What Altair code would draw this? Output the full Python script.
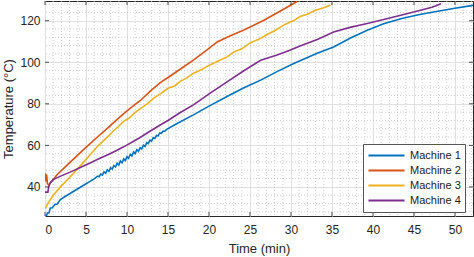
import altair as alt
import pandas as pd

# Heating curves of four machines: time (min) vs temperature (°C)
t1 = [0, 0.15, 0.3, 0.5, 0.65, 0.9, 1.2, 1.5, 1.87, 2.5, 3.5, 4.5, 5.5, 6.0,
      6.4, 6.6, 6.8, 7.0, 7.2, 7.4, 7.6, 7.8, 8.0, 8.2, 8.4, 8.6, 8.8, 9.0, 9.2, 9.4,
      9.6, 9.8, 10.0, 10.2, 10.4, 10.6, 10.8, 11.0, 11.2, 11.4, 11.6, 11.8, 12.0, 12.2,
      12.4, 12.6, 12.8, 13.0, 13.2, 13.4, 13.6, 13.8, 14.0, 14.2, 14.4, 14.6, 14.8,
      16.0, 18.1, 20.0, 22.2, 24.2, 26.3, 28.3, 30.4, 33.2, 35.2, 37.2, 39.3,
      41.3, 43.4, 45.4, 47.4, 49.8, 52.2]
v1 = [25.8, 25.8, 27.5, 27.6, 29.9, 30.0, 31.5, 31.8, 33.9, 35.5, 37.9, 40.3, 42.7, 43.9,
      45.2, 44.9, 46.2, 45.7, 47.2, 46.6, 48.2, 47.5, 49.2, 48.6, 50.3, 49.6, 51.4, 50.5,
      52.5, 51.6, 53.5, 52.7, 54.6, 53.8, 55.7, 54.9, 56.8, 56.0, 57.9, 57.1, 58.9, 58.3,
      60.1, 59.5, 61.3, 60.8, 62.5, 62.1, 63.7, 63.3, 64.8, 64.6, 66.0, 65.8, 66.9, 66.8,
      67.6,
      70.3, 74.7, 78.9, 83.5, 87.6, 91.4, 95.5, 99.5, 104.3, 107.4, 111.6, 115.4,
      118.5, 121.0, 122.8, 124.2, 125.9, 127.4]

t2 = [0, 0.05, 0.15, 0.2, 0.3, 0.45, 0.65, 1.5, 2.5, 3.5, 4.5, 5.5, 6.5, 7.6, 8.6, 9.6,
      10.6, 11.6, 12.8, 14.1, 15.1, 16.6, 18.1, 19.6, 21.0, 22.6, 24.2, 26.7, 28.5, 30.8]
v2 = [43.0, 46.5, 42.5, 46.0, 41.5, 41.0, 41.9, 46.0, 49.8, 53.5, 57.2, 60.8, 64.4, 68.2,
      71.8, 75.3, 78.5, 81.5, 86.0, 90.3, 92.9, 97.0, 101.0, 105.5, 109.8, 112.8, 115.4,
      120.2, 124.2, 129.4]

t3 = [0, 0.5, 1.0, 2.0, 3.0, 4.0, 5.5, 6.5, 7.6, 8.3, 9.0, 9.6, 10.3, 11.0, 11.6, 12.5,
      13.3, 14.1, 15.0, 15.8, 16.5, 17.3, 18.1, 19.0, 20.0, 21.0, 22.2, 23.0, 24.0, 25.0,
      26.3, 27.2, 28.0, 29.2, 30.4, 31.1, 32.0, 33.0, 33.9, 34.8]
v3 = [29.5, 33.0, 36.0, 40.5, 44.5, 48.8, 55.5, 59.9, 64.0, 66.8, 69.2, 71.6, 73.3, 75.9,
      77.6, 80.1, 82.9, 84.9, 87.5, 88.6, 90.8, 92.5, 94.7, 96.3, 98.5, 100.4, 102.6, 104.9,
      106.5, 109.3, 111.5, 113.6, 115.2, 118.1, 120.2, 122.0, 123.1, 125.0, 126.1, 127.5]

t4 = [0, 0.35, 0.45, 0.65, 1.0, 1.9, 3.0, 4.3, 5.5, 6.5, 7.6, 8.6, 9.6, 10.6, 11.6, 12.8,
      14.1, 15.0, 16.5, 18.1, 20.1, 22.2, 24.2, 26.3, 28.3, 29.7, 31.1, 33.2, 35.2, 37.2,
      39.3, 41.3, 43.4, 45.8, 47.2, 48.3]
v4 = [37.5, 37.5, 40.0, 42.0, 43.5, 45.2, 47.0, 49.3, 51.5, 53.4, 55.4, 57.3, 59.3, 61.5,
      63.8, 66.8, 69.9, 72.0, 75.8, 79.5, 85.0, 90.6, 95.8, 101.0, 103.5, 105.6, 107.8,
      111.0, 114.6, 116.8, 118.7, 120.6, 122.6, 125.0, 126.5, 128.2]

names = ["Machine 1", "Machine 2", "Machine 3", "Machine 4"]
colors = ["#0072BD", "#D95319", "#EDB120", "#7E2F8E"]

x_ticks = [0, 5, 10, 15, 20, 25, 30, 35, 40, 45, 50]
y_ticks = [40, 60, 80, 100, 120]
x_minor = [v for v in range(0, 53) if v % 5]
y_minor = [v for v in range(28, 130, 4) if v % 20]

X_DOM = [0, 52.2]
Y_DOM = [26, 129.5]
W, H = 428, 215

frames = []
for name, t, v in zip(names, [t1, t2, t3, t4], [v1, v2, v3, v4]):
    frames.append(pd.DataFrame({"time": t, "temp": v, "machine": name}))
df = pd.concat(frames, ignore_index=True)

xs = alt.Scale(domain=X_DOM, nice=False, zero=False)
ys = alt.Scale(domain=Y_DOM, nice=False, zero=False)

# Shared axis definitions so every layer merges into one axis per channel
x_axis = alt.Axis(values=x_ticks, ticks=False, domain=False, grid=True,
                  gridColor="#e0e0e0", gridWidth=1, labelPadding=8, titlePadding=7)
y_axis = alt.Axis(values=y_ticks, ticks=False, domain=False, grid=True,
                  gridColor="#e0e0e0", gridWidth=1, labelPadding=5, titlePadding=4)
X_TITLE = "Time (min)"
Y_TITLE = "Temperature (°C)"


def xenc(field):
    return alt.X(field, type="quantitative", scale=xs, title=X_TITLE, axis=x_axis)


def yenc(field):
    return alt.Y(field, type="quantitative", scale=ys, title=Y_TITLE, axis=y_axis)


gx = pd.DataFrame({"x": x_minor})
gy = pd.DataFrame({"y": y_minor})
tx = pd.DataFrame({"x": x_ticks})
ty = pd.DataFrame({"y": y_ticks})

minor_x = alt.Chart(gx).mark_rule(color="#c4c4c4", strokeWidth=0.8, strokeDash=[1, 2]).encode(
    x=xenc("x"))
minor_y = alt.Chart(gy).mark_rule(color="#c4c4c4", strokeWidth=0.8, strokeDash=[1, 2]).encode(
    y=yenc("y"))

lines = alt.Chart(df).mark_line(strokeWidth=1.6, clip=True).encode(
    x=xenc("time"),
    y=yenc("temp"),
    color=alt.Color("machine:N", scale=alt.Scale(domain=names, range=colors),
                    legend=alt.Legend(title=None, orient="none", legendX=318, legendY=143,
                                      symbolType="stroke", symbolSize=1300,
                                      symbolStrokeWidth=2, clipHeight=15,
                                      labelFontSize=11, labelColor="#1a1a1a",
                                      labelFont="Liberation Sans",
                                      fillColor="white", strokeColor="#555555",
                                      padding=4, rowPadding=0, labelOffset=4)),
    order=alt.Order("time:Q"),
    detail="machine:N",
)

tick_color = "#262626"
bot = alt.Chart(tx).mark_rule(color=tick_color, strokeWidth=0.8).encode(
    x=xenc("x"), y=alt.value(H), y2=alt.value(H - 4))
top = alt.Chart(tx).mark_rule(color=tick_color, strokeWidth=0.8).encode(
    x=xenc("x"), y=alt.value(0), y2=alt.value(4))
left = alt.Chart(ty).mark_rule(color=tick_color, strokeWidth=0.8).encode(
    y=yenc("y"), x=alt.value(0), x2=alt.value(4))
right = alt.Chart(ty).mark_rule(color=tick_color, strokeWidth=0.8).encode(
    y=yenc("y"), x=alt.value(W), x2=alt.value(W - 4))

chart = alt.layer(minor_x, minor_y, lines, bot, top, left, right).properties(
    width=W, height=H,
    autosize=alt.AutoSizeParams(type="none"),
    padding={"left": 45, "top": 1, "right": 1, "bottom": 41},
).configure_view(
    stroke="#262626", strokeWidth=1
).configure_axis(
    labelFont="Liberation Sans", labelFontSize=12, labelColor="#262626",
    titleFont="Liberation Sans", titleFontSize=13, titleColor="#262626",
    titleFontWeight="normal",
)

chart.save("out.html", embed_options={"renderer": "svg", "actions": False})
